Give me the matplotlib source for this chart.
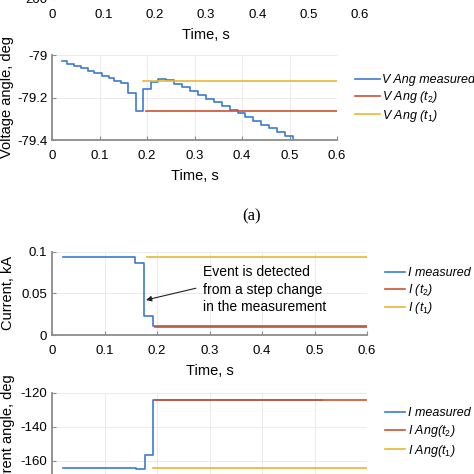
import matplotlib
matplotlib.use("Agg")
import matplotlib.pyplot as plt

plt.rcParams['font.family'] = ['Liberation Sans', 'DejaVu Sans']
plt.rcParams['mathtext.fontset'] = 'custom'
plt.rcParams['mathtext.it'] = 'Liberation Sans:italic'
plt.rcParams['mathtext.rm'] = 'Liberation Sans'
plt.rcParams['axes.unicode_minus'] = False

#Voltage angle data (stairs)
v_time = [0.020, 0.032, 0.047, 0.061, 0.075, 0.089, 0.105, 0.119, 0.131, 0.145,
          0.159, 0.177, 0.192, 0.208, 0.224,
          0.241, 0.257, 0.274, 0.291, 0.307, 0.324, 0.341, 0.357, 0.374, 0.391,
          0.407, 0.424, 0.441, 0.457, 0.474, 0.491, 0.507, 0.515]
v_meas = [-79.028, -79.040, -79.051, -79.063, -79.074, -79.086, -79.098, -79.109, -79.121, -79.132,
          -79.180, -79.262, -79.162, -79.125, -79.113,
          -79.118, -79.135, -79.152, -79.170, -79.187, -79.205, -79.222, -79.240, -79.258, -79.275,
          -79.293, -79.310, -79.328, -79.345, -79.363, -79.380, -79.398, -79.398]
v_t2_time = [0.197, 0.6]
v_t2 = [-79.262, -79.262]
v_t1_time = [0.192, 0.6]
v_t1 = [-79.122, -79.122]

#Current magnitude data
i_time = [0.021, 0.158, 0.175, 0.193, 0.6]
i_meas = [0.094, 0.087, 0.023, 0.0105, 0.0105]
i_t2_time = [0.197, 0.6]
i_t2 = [0.0095, 0.0095]
i_t1_time = [0.180, 0.6]
i_t1 = [0.094, 0.094]

#Current angle data
a_time = [0.021, 0.160, 0.177, 0.193, 0.515]
a_meas = [-164.3, -164.9, -156.5, -124.3, -124.3]
a_t2_time = [0.196, 0.6]
a_t2 = [-124.1, -124.1]
a_t1_time = [0.192, 0.6]
a_t1 = [-164.3, -164.3]

time_ticks = [0, 0.1, 0.2, 0.3, 0.4, 0.5, 0.6]

blue = '#3c7ad4'
red = '#cc5232'
yellow = '#e8b832'
spine_col = '#8c8c8c'

W = 474.0


def box(l, t, r, b):
    # pixel box -> figure fraction
    return [l / W, 1 - b / W, (r - l) / W, (b - t) / W]


def style(ax, xlabel=True):
    ax.grid(True, color='#e8e8e8', linewidth=0.6)
    ax.set_axisbelow(True)
    for s in ['top', 'right']:
        ax.spines[s].set_visible(False)
    for s in ['left', 'bottom']:
        ax.spines[s].set_color(spine_col)
        ax.spines[s].set_linewidth(1.3)
    ax.tick_params(direction='in', length=3, width=0.8, color=spine_col,
                   labelsize=9.5)
    ax.tick_params(axis='x', pad=7.5)
    ax.tick_params(axis='y', pad=3.5)
    ax.set_xlim(0, 0.6)
    ax.set_xticks(time_ticks)
    ax.xaxis.set_major_formatter(lambda v, p: f'{v:g}')
    ax.yaxis.set_major_formatter(lambda v, p: f'{v:g}')
    if xlabel:
        ax.set_xlabel('Time, s', fontsize=10.5, labelpad=4.5)
    else:
        ax.tick_params(axis='x', labelbottom=False)


fig = plt.figure(figsize=(4.74, 4.74), dpi=100)

#Panel above (only its bottom edge is visible)
ax0 = fig.add_axes(box(52, -100, 360, -1))
style(ax0)
ax0.set_ylim(200, 400)
ax0.set_yticks([200])
ax0.spines['left'].set_visible(False)
ax0.spines['bottom'].set_visible(False)
ax0.grid(False)

#Voltage angle
ax1 = fig.add_axes(box(52, 55, 337, 140))
style(ax1)
ax1.step(v_time, v_meas, where='post', color=blue, lw=1.2, label='V Ang measured')
ax1.plot(v_t2_time, v_t2, color=red, lw=1.2, label=r'V Ang ($\mathit{t_2}$)')
ax1.plot(v_t1_time, v_t1, color=yellow, lw=1.2, label=r'V Ang ($\mathit{t_1}$)')
ax1.set_ylim(-79.4, -79)
ax1.set_yticks([-79.4, -79.2, -79])
ax1.set_ylabel('Voltage angle, deg', fontsize=10.5)
ax1.yaxis.set_label_coords(-0.135, 0.5)
ax1.legend(loc='center left', bbox_to_anchor=(355 / W, 1 - 99 / W),
           bbox_transform=fig.transFigure, frameon=False,
           prop={'style': 'italic', 'size': 9}, handlelength=2.0,
           handletextpad=0.2, labelspacing=0.22, borderpad=0, borderaxespad=0)

fig.text(252 / W, 1 - 216 / W, '(a)', family='Liberation Serif', fontsize=12,
         ha='center', va='center')

#Current magnitude
ax2 = fig.add_axes(box(52, 251.7, 367, 335))
style(ax2)
ax2.step(i_time, i_meas, where='post', color=blue, lw=1.2, label='I measured')
ax2.plot(i_t2_time, i_t2, color=red, lw=1.2, label=r'I ($\mathit{t_2}$)')
ax2.plot(i_t1_time, i_t1, color=yellow, lw=1.2, label=r'I ($\mathit{t_1}$)')
ax2.set_ylim(0, 0.1)
ax2.set_yticks([0, 0.05, 0.1])
ax2.set_ylabel('Current, kA', fontsize=10.5)
ax2.yaxis.set_label_coords(-0.118, 0.5)
ax2.annotate('Event is detected\nfrom a step change\nin the measurement',
             xy=(0.179, 0.042), xytext=(0.287, 0.0545), ha='left', va='center',
             fontsize=10, linespacing=1.35,
             arrowprops=dict(arrowstyle='-|>', color='#222222', lw=0.8,
                             mutation_scale=8, relpos=(0, 0.56),
                             shrinkA=3, shrinkB=0))
ax2.legend(loc='center left', bbox_to_anchor=(385 / W, 1 - 292 / W),
           bbox_transform=fig.transFigure, frameon=False,
           prop={'style': 'italic', 'size': 9}, handlelength=1.6,
           handletextpad=0.2, labelspacing=0.2, borderpad=0, borderaxespad=0)

#Current angle (its time axis lies below the visible area)
ax3 = fig.add_axes(box(52, 393, 367, 478))
style(ax3, xlabel=False)
ax3.step(a_time, a_meas, where='post', color=blue, lw=1.2, label='I measured')
ax3.plot(a_t2_time, a_t2, color=red, lw=1.2, label=r'I Ang($\mathit{t_2}$)')
ax3.plot(a_t1_time, a_t1, color=yellow, lw=1.2, label=r'I Ang($\mathit{t_1}$)')
ax3.set_ylim(-170, -120)
ax3.set_yticks([-160, -140, -120])
ax3.set_ylabel('Current angle, deg', fontsize=10.5)
ax3.yaxis.set_label_coords(-0.118, 0.5)
ax3.legend(loc='center left', bbox_to_anchor=(385 / W, 1 - 433 / W),
           bbox_transform=fig.transFigure, frameon=False,
           prop={'style': 'italic', 'size': 9}, handlelength=1.6,
           handletextpad=0.2, labelspacing=0.3, borderpad=0, borderaxespad=0)

fig.savefig('out.png', dpi=100)
